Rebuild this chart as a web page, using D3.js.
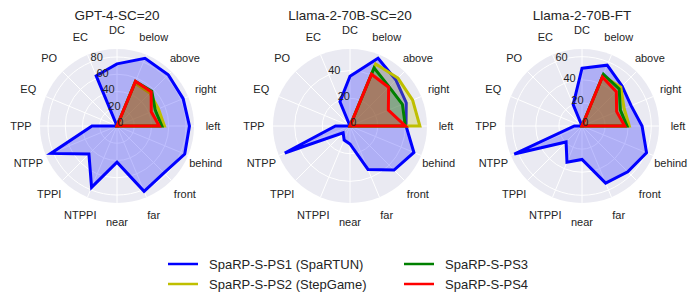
<!DOCTYPE html>
<html>
<head>
<meta charset="utf-8">
<script src="https://cdn.jsdelivr.net/npm/d3@7"></script>
<style>
  body { margin: 0; background: #fff; }
  text { font-family: "Liberation Sans", Arial, sans-serif; fill: rgb(36,36,36); }
</style>
</head>
<body>
<script>
// categories, clockwise from the top
const categories = ["DC", "below", "above", "right", "left", "behind", "front", "far",
  "near", "NTPPI", "TPPI", "NTPP", "TPP", "EQ", "PO", "EC"];

const titles = ["GPT-4-SC=20", "Llama-2-70B-SC=20", "Llama-2-70B-FT"];
const seriesNames = ["SpaRP-S-PS1 (SpaRTUN)", "SpaRP-S-PS2 (StepGame)", "SpaRP-S-PS3", "SpaRP-S-PS4"];
const seriesColors = ["#0000ff", "#bfbf00", "#008000", "#ff0000"];

// GPT-4-SC=20
const gptPS1 = [72, 85, 84, 83, 84, 85, 77, 82, 42, 77, 46, 83, 29, 0, 0, 63];
const gptPS2 = [0, 54, 54, 52, 55, 0, 0, 0, 0, 0, 0, 0, 0, 0, 0, 0];
const gptPS3 = [0, 56, 57, 48, 52, 0, 0, 0, 0, 0, 0, 0, 0, 0, 0, 0];
const gptPS4 = [0, 56, 56, 43, 49, 0, 0, 0, 0, 0, 0, 0, 0, 0, 0, 0];

// Llama-2-70B-SC=20
const llamaScPS1 = [36, 53, 47, 44, 40.5, 50, 45, 34, 13, 11, 7, 51, 10.5, 0, 0, 19];
const llamaScPS2 = [0, 48.5, 49, 49, 50.5, 0, 0, 0, 0, 0, 0, 0, 0, 0, 0, 0];
const llamaScPS3 = [0, 45.5, 40, 41, 40, 0, 0, 0, 0, 0, 0, 0, 0, 0, 0, 0];
const llamaScPS4 = [0, 40.5, 39.5, 30, 40, 0, 0, 0, 0, 0, 0, 0, 0, 0, 0, 0];

// Llama-2-70B-FT
const llamaFtPS1 = [50, 57, 49, 46, 52, 60.5, 56, 53.5, 29, 34, 19.5, 63.5, 6.6, 0, 0, 20];
const llamaFtPS2 = [0, 47, 47.5, 39.5, 41, 0, 0, 0, 0, 0, 0, 0, 0, 0, 0, 0];
const llamaFtPS3 = [0, 48.5, 45.5, 36, 39, 0, 0, 0, 0, 0, 0, 0, 0, 0, 0, 0];
const llamaFtPS4 = [0, 46, 42, 32.5, 37, 0, 0, 0, 0, 0, 0, 0, 0, 0, 0, 0];

const radialTicks = [[0, 20, 40, 60, 80], [0, 20, 40], [0, 20, 40, 60]];

const panels = [
  [gptPS1, gptPS2, gptPS3, gptPS4],
  [llamaScPS1, llamaScPS2, llamaScPS3, llamaScPS4],
  [llamaFtPS1, llamaFtPS2, llamaFtPS3, llamaFtPS4]
];

const w = 699, h = 308;
const R = 77;
const cy = 126;
const centersX = [117, 350, 582];
const step = 2 * Math.PI / categories.length;

const svg = d3.select("body").append("svg")
  .attr("width", w)
  .attr("height", h);

panels.forEach((series, p) => {
  const g = svg.append("g")
    .attr("transform", "translate(" + centersX[p] + "," + cy + ")");

  const maxVal = d3.max(series, (s) => d3.max(s));
  const rScale = d3.scaleLinear().domain([0, maxVal * 1.05]).range([0, R]);

  // background + grid
  g.append("circle").attr("r", R).attr("fill", "#eaeaf2");

  g.selectAll("circle.ring")
    .data(radialTicks[p].filter((t) => t > 0))
    .enter().append("circle")
    .attr("class", "ring")
    .attr("r", (d) => rScale(d))
    .attr("fill", "none")
    .attr("stroke", "#fff")
    .attr("stroke-width", 1);

  g.selectAll("line.spoke")
    .data(categories)
    .enter().append("line")
    .attr("class", "spoke")
    .attr("x1", 0).attr("y1", 0)
    .attr("x2", (d, i) => R * Math.sin(i * step))
    .attr("y2", (d, i) => -R * Math.cos(i * step))
    .attr("stroke", "#fff")
    .attr("stroke-width", 1);

  // data
  const line = d3.lineRadial()
    .angle((d, i) => i * step)
    .radius((d) => rScale(d))
    .curve(d3.curveLinearClosed);

  g.selectAll("path.series")
    .data(series)
    .enter().append("path")
    .attr("class", "series")
    .attr("d", (d) => line(d))
    .attr("fill", (d, i) => seriesColors[i])
    .attr("fill-opacity", 0.25)
    .attr("stroke", (d, i) => seriesColors[i])
    .attr("stroke-width", 3)
    .attr("stroke-linejoin", "miter");

  // angular labels
  g.selectAll("text.cat")
    .data(categories)
    .enter().append("text")
    .attr("class", "cat")
    .attr("x", (d, i) => 96 * Math.sin(i * step))
    .attr("y", (d, i) => -96 * Math.cos(i * step))
    .attr("text-anchor", "middle")
    .attr("dominant-baseline", "central")
    .style("font-size", "11px")
    .text((d) => d);

  // radial tick labels
  const tilt = 20 * Math.PI / 180;
  g.selectAll("text.tick")
    .data(radialTicks[p])
    .enter().append("text")
    .attr("class", "tick")
    .attr("x", (d) => 3.3 - rScale(d) * Math.sin(tilt))
    .attr("y", (d) => -4.3 - rScale(d) * Math.cos(tilt))
    .attr("text-anchor", "middle")
    .attr("dominant-baseline", "central")
    .style("font-size", "11px")
    .text((d) => d);

  svg.append("text")
    .attr("x", centersX[p])
    .attr("y", 20)
    .attr("text-anchor", "middle")
    .style("font-size", "13.5px")
    .text(titles[p]);
});

// legend
const legendX = [168, 404];
const legendY = [264, 284];
const legend = svg.selectAll("g.legend")
  .data(seriesNames)
  .enter().append("g")
  .attr("class", "legend")
  .attr("transform", (d, i) => "translate(" + legendX[Math.floor(i / 2)] + "," + legendY[i % 2] + ")");

legend.append("line")
  .attr("x1", 0).attr("x2", 30)
  .attr("y1", 0).attr("y2", 0)
  .attr("stroke", (d, i) => seriesColors[i])
  .attr("stroke-width", 2.5);

legend.append("text")
  .attr("x", 41)
  .attr("y", 0)
  .attr("dominant-baseline", "central")
  .style("font-size", "13px")
  .text((d) => d);
</script>
</body>
</html>
